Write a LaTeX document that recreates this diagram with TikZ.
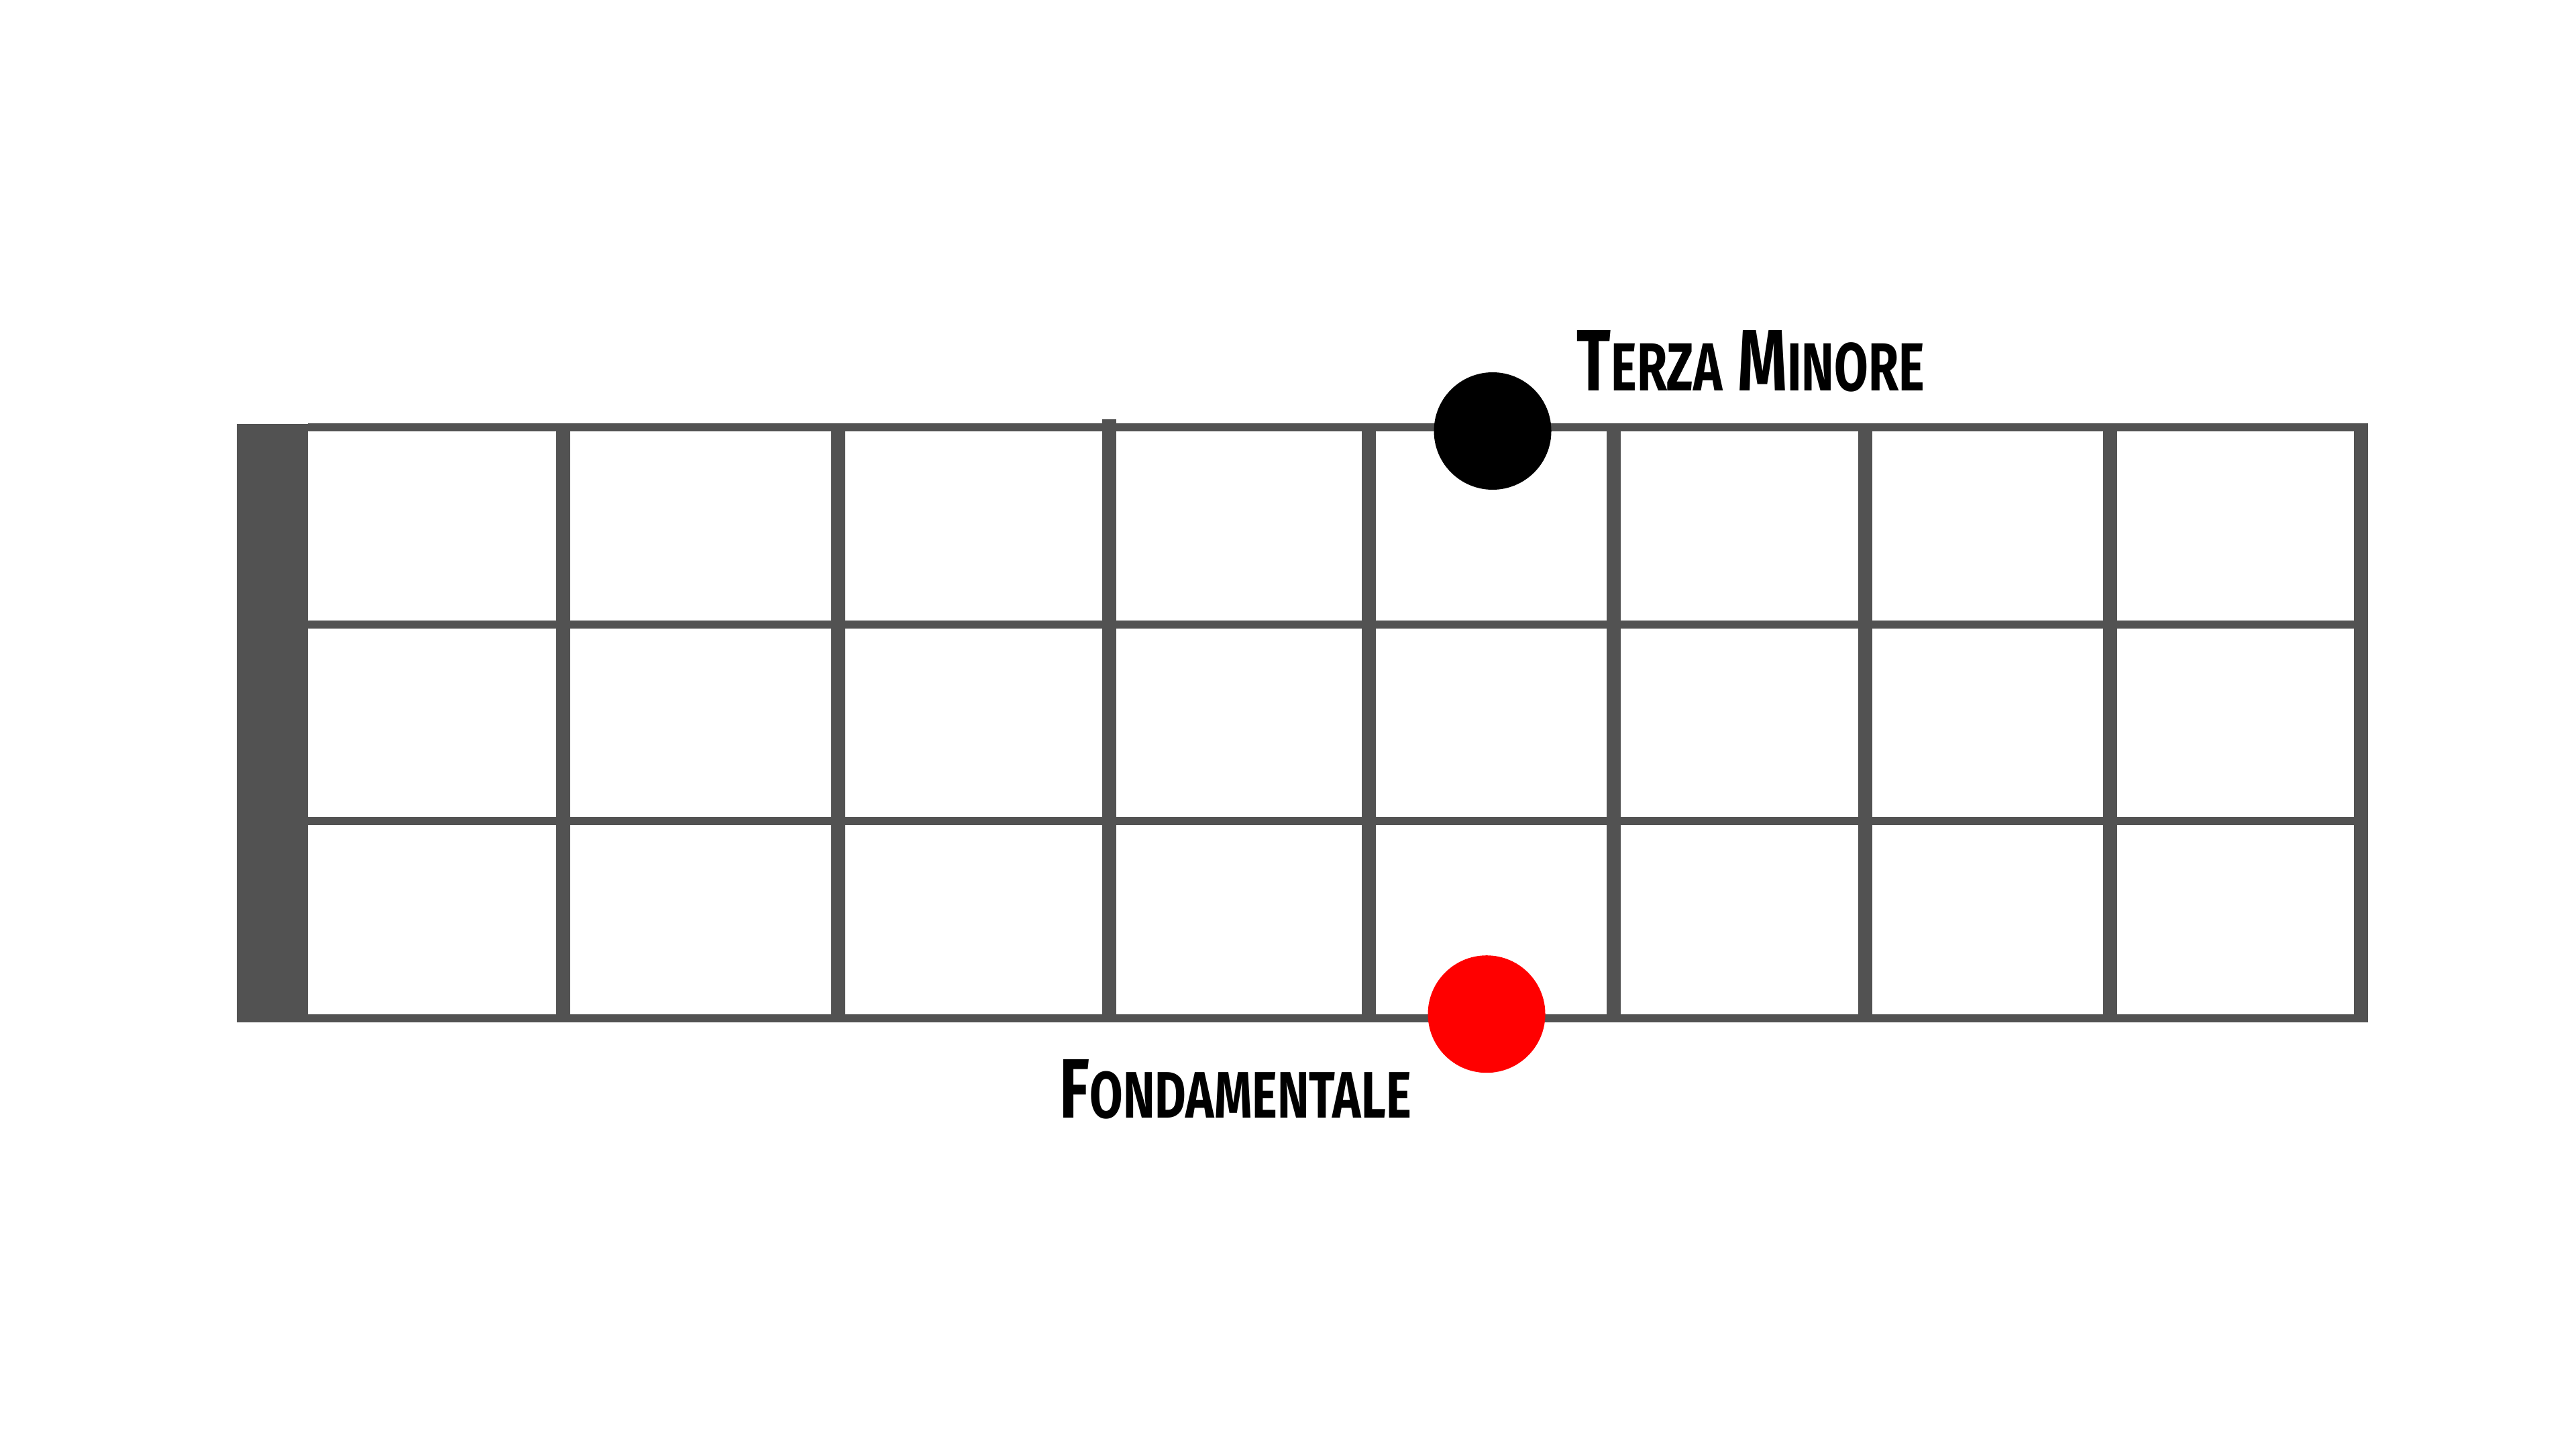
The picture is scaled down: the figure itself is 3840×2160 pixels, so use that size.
\documentclass[tikz,border=0pt]{standalone}
\usepackage{fontspec}
\usepackage{graphicx}
\setmainfont{Fira Sans}
\definecolor{fretgray}{RGB}{82,82,82}
\definecolor{rootred}{RGB}{255,0,0}
\newcommand\smcaps[1]{{\fontsize{15.6pt}{18pt}\selectfont #1}}
\tikzset{
  stringline/.style={draw=fretgray, line width=3pt},
  fretline/.style={draw=fretgray, line width=5.25pt},
  nutbar/.style={fill=fretgray},
  notedot/.style={circle, inner sep=0pt, minimum size=43.75pt},
  notelabel/.style={anchor=base west, inner sep=0pt, text=black},
}
\begin{document}
\begin{tikzpicture}[x=0.25pt,y=-0.25pt]
  \fill[white] (0,0) rectangle (3840,2160);
  \useasboundingbox (0,0) rectangle (3840,2160);
  % nut
  \fill[nutbar] (353,632) rectangle (459,1524);
  % strings
  \foreach \y in {637.5,931,1224,1518}{
    \draw[stringline] (459,\y) -- (3530,\y);
  }
  % frets
  \foreach \x in {839.5,1249,2040,2405,2780,3145,3519.5}{
    \draw[fretline] (\x,632) -- (\x,1524);
  }
  \draw[fretline] (1653,625) -- (1653,1524);
  % notes
  \node[notedot, fill=black] (third) at (2225,642.5) {};
  \node[notedot, fill=rootred] (root) at (2216,1511.7) {};
  % labels
  \node[notelabel] (thirdlabel) at (2350,583)
    {\resizebox{129.5pt}{22.5pt}{\fontsize{20pt}{24pt}\selectfont\bfseries T\smcaps{ERZA} M\smcaps{INORE}}};
  \node[notelabel] (rootlabel) at (1579,1666)
    {\resizebox{131pt}{21.75pt}{\fontsize{20pt}{24pt}\selectfont\bfseries F\smcaps{ONDAMENTALE}}};
\end{tikzpicture}
\end{document}
